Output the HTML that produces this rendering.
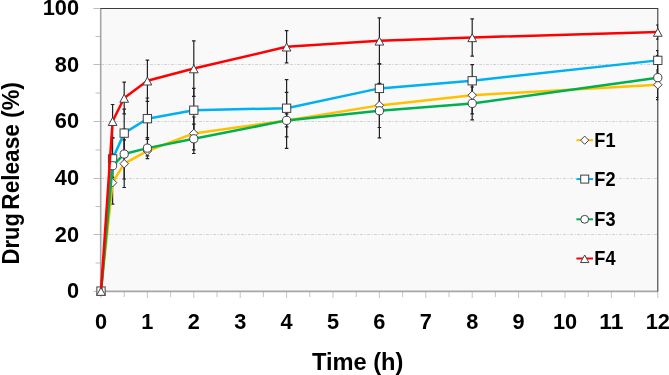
<!DOCTYPE html>
<html lang="en"><head><meta charset="utf-8"><title>Drug Release</title>
<style>html,body{margin:0;padding:0;background:#fff;overflow:hidden}svg{display:block}</style>
</head><body>
<svg width="669" height="375" viewBox="0 0 669 375" font-family="'Liberation Sans', sans-serif" font-weight="bold" fill="#000">
<rect width="669" height="375" fill="#fff"/>
<rect x="101.0" y="8.0" width="556.8" height="283.1" fill="#f9f9f9"/>
<line x1="101.0" x2="657.8" y1="234.5" y2="234.5" stroke="#cdcdcd" stroke-width="0.9" stroke-dasharray="3 1.4 1.2 1.4"/>
<line x1="101.0" x2="657.8" y1="178.5" y2="178.5" stroke="#cdcdcd" stroke-width="0.9" stroke-dasharray="3 1.4 1.2 1.4"/>
<line x1="101.0" x2="657.8" y1="121.5" y2="121.5" stroke="#cdcdcd" stroke-width="0.9" stroke-dasharray="3 1.4 1.2 1.4"/>
<line x1="101.0" x2="657.8" y1="64.5" y2="64.5" stroke="#cdcdcd" stroke-width="0.9" stroke-dasharray="3 1.4 1.2 1.4"/>
<line x1="93.5" x2="101.0" y1="291.4" y2="291.4" stroke="#bdbdbd" stroke-width="1"/>
<line x1="95.5" x2="101.0" y1="263" y2="263" stroke="#bdbdbd" stroke-width="1"/>
<line x1="93.5" x2="101.0" y1="234.5" y2="234.5" stroke="#bdbdbd" stroke-width="1"/>
<line x1="95.5" x2="101.0" y1="206.5" y2="206.5" stroke="#bdbdbd" stroke-width="1"/>
<line x1="93.5" x2="101.0" y1="178.5" y2="178.5" stroke="#bdbdbd" stroke-width="1"/>
<line x1="95.5" x2="101.0" y1="150" y2="150" stroke="#bdbdbd" stroke-width="1"/>
<line x1="93.5" x2="101.0" y1="121.5" y2="121.5" stroke="#bdbdbd" stroke-width="1"/>
<line x1="95.5" x2="101.0" y1="93" y2="93" stroke="#bdbdbd" stroke-width="1"/>
<line x1="93.5" x2="101.0" y1="64.5" y2="64.5" stroke="#bdbdbd" stroke-width="1"/>
<line x1="95.5" x2="101.0" y1="36.5" y2="36.5" stroke="#bdbdbd" stroke-width="1"/>
<line x1="93.5" x2="101.0" y1="8.5" y2="8.5" stroke="#bdbdbd" stroke-width="1"/>
<line x1="101.0" x2="101.0" y1="291.1" y2="298.1" stroke="#c4c4c4" stroke-width="1"/>
<line x1="124.2" x2="124.2" y1="291.1" y2="297.1" stroke="#c4c4c4" stroke-width="1"/>
<line x1="147.4" x2="147.4" y1="291.1" y2="298.1" stroke="#c4c4c4" stroke-width="1"/>
<line x1="170.6" x2="170.6" y1="291.1" y2="297.1" stroke="#c4c4c4" stroke-width="1"/>
<line x1="193.8" x2="193.8" y1="291.1" y2="298.1" stroke="#c4c4c4" stroke-width="1"/>
<line x1="217.0" x2="217.0" y1="291.1" y2="297.1" stroke="#c4c4c4" stroke-width="1"/>
<line x1="240.2" x2="240.2" y1="291.1" y2="298.1" stroke="#c4c4c4" stroke-width="1"/>
<line x1="263.4" x2="263.4" y1="291.1" y2="297.1" stroke="#c4c4c4" stroke-width="1"/>
<line x1="286.6" x2="286.6" y1="291.1" y2="298.1" stroke="#c4c4c4" stroke-width="1"/>
<line x1="309.8" x2="309.8" y1="291.1" y2="297.1" stroke="#c4c4c4" stroke-width="1"/>
<line x1="333.0" x2="333.0" y1="291.1" y2="298.1" stroke="#c4c4c4" stroke-width="1"/>
<line x1="356.2" x2="356.2" y1="291.1" y2="297.1" stroke="#c4c4c4" stroke-width="1"/>
<line x1="379.4" x2="379.4" y1="291.1" y2="298.1" stroke="#c4c4c4" stroke-width="1"/>
<line x1="402.6" x2="402.6" y1="291.1" y2="297.1" stroke="#c4c4c4" stroke-width="1"/>
<line x1="425.8" x2="425.8" y1="291.1" y2="298.1" stroke="#c4c4c4" stroke-width="1"/>
<line x1="449.0" x2="449.0" y1="291.1" y2="297.1" stroke="#c4c4c4" stroke-width="1"/>
<line x1="472.2" x2="472.2" y1="291.1" y2="298.1" stroke="#c4c4c4" stroke-width="1"/>
<line x1="495.4" x2="495.4" y1="291.1" y2="297.1" stroke="#c4c4c4" stroke-width="1"/>
<line x1="518.6" x2="518.6" y1="291.1" y2="298.1" stroke="#c4c4c4" stroke-width="1"/>
<line x1="541.8" x2="541.8" y1="291.1" y2="297.1" stroke="#c4c4c4" stroke-width="1"/>
<line x1="565.0" x2="565.0" y1="291.1" y2="298.1" stroke="#c4c4c4" stroke-width="1"/>
<line x1="588.2" x2="588.2" y1="291.1" y2="297.1" stroke="#c4c4c4" stroke-width="1"/>
<line x1="611.4" x2="611.4" y1="291.1" y2="298.1" stroke="#c4c4c4" stroke-width="1"/>
<line x1="634.6" x2="634.6" y1="291.1" y2="297.1" stroke="#c4c4c4" stroke-width="1"/>
<line x1="657.8" x2="657.8" y1="291.1" y2="298.1" stroke="#c4c4c4" stroke-width="1"/>
<line x1="100.7" x2="100.7" y1="8.0" y2="291.8" stroke="#a6a6a6" stroke-width="1.6"/>
<line x1="100.0" x2="657.8" y1="291.40000000000003" y2="291.40000000000003" stroke="#a6a6a6" stroke-width="1.6"/>
<path d="M100.5 8.5H657.8V291.6" fill="none" stroke="#3c3c3c" stroke-width="1.1"/>
<clipPath id="pc"><rect x="101.0" y="8" width="557.3" height="283.1"/></clipPath>
<path d="M112.6 161.2V204.2M110.8 161.2h3.6M110.8 204.2h3.6M124.2 139.9V187.5M122.4 139.9h3.6M122.4 187.5h3.6M147.4 146.2V155.8M145.6 146.2h3.6M145.6 155.8h3.6M193.8 117.0V149.8M192.0 117.0h3.6M192.0 149.8h3.6M286.6 92.4V148.4M284.8 92.4h3.6M284.8 148.4h3.6M379.4 83.3V127.5M377.6 83.3h3.6M377.6 127.5h3.6M472.2 76.5V113.9M470.4 76.5h3.6M470.4 113.9h3.6M657.8 72.0V97.5M656.0 72.0h3.6M656.0 97.5h3.6" fill="none" stroke="#222" stroke-width="1.2" clip-path="url(#pc)"/>
<path d="M112.6 137.9V179.8M110.8 137.9h3.6M110.8 179.8h3.6M124.2 109.1V157.2M122.4 109.1h3.6M122.4 157.2h3.6M147.4 98.0V139.4M145.6 98.0h3.6M145.6 139.4h3.6M193.8 88.4V132.0M192.0 88.4h3.6M192.0 132.0h3.6M286.6 79.6V136.8M284.8 79.6h3.6M284.8 136.8h3.6M379.4 63.8V113.0M377.6 63.8h3.6M377.6 113.0h3.6M472.2 64.6V96.9M470.4 64.6h3.6M470.4 96.9h3.6M657.8 50.7V70.0M656.0 50.7h3.6M656.0 70.0h3.6" fill="none" stroke="#222" stroke-width="1.2" clip-path="url(#pc)"/>
<path d="M112.6 154.1V177.3M110.8 154.1h3.6M110.8 177.3h3.6M124.2 129.2V179.0M122.4 129.2h3.6M122.4 179.0h3.6M147.4 137.7V158.6M145.6 137.7h3.6M145.6 158.6h3.6M193.8 124.1V153.5M192.0 124.1h3.6M192.0 153.5h3.6M286.6 113.9V126.9M284.8 113.9h3.6M284.8 126.9h3.6M379.4 83.6V137.9M377.6 83.6h3.6M377.6 137.9h3.6M472.2 87.0V119.8M470.4 87.0h3.6M470.4 119.8h3.6M657.8 55.6V99.7M656.0 55.6h3.6M656.0 99.7h3.6" fill="none" stroke="#222" stroke-width="1.2" clip-path="url(#pc)"/>
<path d="M112.6 104.5V137.9M110.8 104.5h3.6M110.8 137.9h3.6M124.2 82.2V113.9M122.4 82.2h3.6M122.4 113.9h3.6M147.4 60.1V101.4M145.6 60.1h3.6M145.6 101.4h3.6M193.8 40.8V96.3M192.0 40.8h3.6M192.0 96.3h3.6M286.6 30.6V62.9M284.8 30.6h3.6M284.8 62.9h3.6M379.4 17.9V63.8M377.6 17.9h3.6M377.6 63.8h3.6M472.2 18.8V56.1M470.4 18.8h3.6M470.4 56.1h3.6M657.8 25.0V39.1M656.0 25.0h3.6M656.0 39.1h3.6" fill="none" stroke="#222" stroke-width="1.2" clip-path="url(#pc)"/>
<path d="M101.00 291.10L112.60 182.67L124.20 163.71L147.40 150.97L193.80 133.41L286.60 120.39L379.40 105.39L472.20 95.19L657.80 84.72" fill="none" stroke="#FFC000" stroke-width="2.5" stroke-linejoin="round" stroke-linecap="round"/>
<path d="M108.35 182.67L112.60 178.42L116.85 182.67L112.60 186.92Z" fill="#fff" stroke="#404040" stroke-width="1"/>
<path d="M119.95 163.71L124.20 159.46L128.45 163.71L124.20 167.96Z" fill="#fff" stroke="#404040" stroke-width="1"/>
<path d="M143.15 150.97L147.40 146.72L151.65 150.97L147.40 155.22Z" fill="#fff" stroke="#404040" stroke-width="1"/>
<path d="M189.55 133.41L193.80 129.16L198.05 133.41L193.80 137.66Z" fill="#fff" stroke="#404040" stroke-width="1"/>
<path d="M282.35 120.39L286.60 116.14L290.85 120.39L286.60 124.64Z" fill="#fff" stroke="#404040" stroke-width="1"/>
<path d="M375.15 105.39L379.40 101.14L383.65 105.39L379.40 109.64Z" fill="#fff" stroke="#404040" stroke-width="1"/>
<path d="M467.95 95.19L472.20 90.94L476.45 95.19L472.20 99.44Z" fill="#fff" stroke="#404040" stroke-width="1"/>
<path d="M653.55 84.72L657.80 80.47L662.05 84.72L657.80 88.97Z" fill="#fff" stroke="#404040" stroke-width="1"/>
<path d="M101.00 291.10L112.60 158.89L124.20 133.13L147.40 118.69L193.80 110.20L286.60 108.22L379.40 88.40L472.20 80.76L657.80 60.37" fill="none" stroke="#00B0F0" stroke-width="2.5" stroke-linejoin="round" stroke-linecap="round"/>
<rect x="96.85" y="286.95" width="8.30" height="8.30" fill="#fff" stroke="#404040" stroke-width="1"/>
<rect x="108.45" y="154.74" width="8.30" height="8.30" fill="#fff" stroke="#404040" stroke-width="1"/>
<rect x="120.05" y="128.98" width="8.30" height="8.30" fill="#fff" stroke="#404040" stroke-width="1"/>
<rect x="143.25" y="114.54" width="8.30" height="8.30" fill="#fff" stroke="#404040" stroke-width="1"/>
<rect x="189.65" y="106.05" width="8.30" height="8.30" fill="#fff" stroke="#404040" stroke-width="1"/>
<rect x="282.45" y="104.07" width="8.30" height="8.30" fill="#fff" stroke="#404040" stroke-width="1"/>
<rect x="375.25" y="84.25" width="8.30" height="8.30" fill="#fff" stroke="#404040" stroke-width="1"/>
<rect x="468.05" y="76.61" width="8.30" height="8.30" fill="#fff" stroke="#404040" stroke-width="1"/>
<rect x="653.65" y="56.22" width="8.30" height="8.30" fill="#fff" stroke="#404040" stroke-width="1"/>
<path d="M101.00 291.10L112.60 165.69L124.20 154.08L147.40 148.13L193.80 138.79L286.60 120.39L379.40 110.77L472.20 103.40L657.80 77.64" fill="none" stroke="#00B050" stroke-width="2.5" stroke-linejoin="round" stroke-linecap="round"/>
<circle cx="112.60" cy="165.69" r="4.10" fill="#fff" stroke="#404040" stroke-width="1"/>
<circle cx="124.20" cy="154.08" r="4.10" fill="#fff" stroke="#404040" stroke-width="1"/>
<circle cx="147.40" cy="148.13" r="4.10" fill="#fff" stroke="#404040" stroke-width="1"/>
<circle cx="193.80" cy="138.79" r="4.10" fill="#fff" stroke="#404040" stroke-width="1"/>
<circle cx="286.60" cy="120.39" r="4.10" fill="#fff" stroke="#404040" stroke-width="1"/>
<circle cx="379.40" cy="110.77" r="4.10" fill="#fff" stroke="#404040" stroke-width="1"/>
<circle cx="472.20" cy="103.40" r="4.10" fill="#fff" stroke="#404040" stroke-width="1"/>
<circle cx="657.80" cy="77.64" r="4.10" fill="#fff" stroke="#404040" stroke-width="1"/>
<path d="M101.00 291.10L112.60 121.24L124.20 98.03L147.40 80.76L193.80 68.58L286.60 46.78L379.40 40.84L472.20 37.44L657.80 32.06" fill="none" stroke="#FF0000" stroke-width="2.5" stroke-linejoin="round" stroke-linecap="round"/>
<path d="M101.00 287.42L105.35 295.32L96.65 295.32Z" fill="#fff" stroke="#404040" stroke-width="1"/>
<path d="M112.60 117.56L116.95 125.46L108.25 125.46Z" fill="#fff" stroke="#404040" stroke-width="1"/>
<path d="M124.20 94.35L128.55 102.25L119.85 102.25Z" fill="#fff" stroke="#404040" stroke-width="1"/>
<path d="M147.40 77.08L151.75 84.98L143.05 84.98Z" fill="#fff" stroke="#404040" stroke-width="1"/>
<path d="M193.80 64.90L198.15 72.80L189.45 72.80Z" fill="#fff" stroke="#404040" stroke-width="1"/>
<path d="M286.60 43.10L290.95 51.00L282.25 51.00Z" fill="#fff" stroke="#404040" stroke-width="1"/>
<path d="M379.40 37.16L383.75 45.06L375.05 45.06Z" fill="#fff" stroke="#404040" stroke-width="1"/>
<path d="M472.20 33.76L476.55 41.66L467.85 41.66Z" fill="#fff" stroke="#404040" stroke-width="1"/>
<path d="M657.80 28.38L662.15 36.28L653.45 36.28Z" fill="#fff" stroke="#404040" stroke-width="1"/>
<line x1="576.4" x2="593" y1="140.2" y2="140.2" stroke="#FFC000" stroke-width="2"/>
<path d="M580.62 140.20L584.70 136.12L588.78 140.20L584.70 144.28Z" fill="#fff" stroke="#404040" stroke-width="1"/>
<text x="594.3" y="146.7" font-size="21" textLength="21.2" lengthAdjust="spacingAndGlyphs">F1</text>
<line x1="576.4" x2="593" y1="179.1" y2="179.1" stroke="#00B0F0" stroke-width="2"/>
<rect x="580.72" y="175.12" width="7.97" height="7.97" fill="#fff" stroke="#404040" stroke-width="1"/>
<text x="594.3" y="185.6" font-size="21" textLength="21.2" lengthAdjust="spacingAndGlyphs">F2</text>
<line x1="576.4" x2="593" y1="219.3" y2="219.3" stroke="#00B050" stroke-width="2"/>
<circle cx="584.70" cy="219.30" r="3.94" fill="#fff" stroke="#404040" stroke-width="1"/>
<text x="594.3" y="225.8" font-size="21" textLength="21.2" lengthAdjust="spacingAndGlyphs">F3</text>
<line x1="576.4" x2="593" y1="258.5" y2="258.5" stroke="#FF0000" stroke-width="2"/>
<path d="M584.70 254.98L588.88 262.56L580.52 262.56Z" fill="#fff" stroke="#404040" stroke-width="1"/>
<text x="594.3" y="265.0" font-size="21" textLength="21.2" lengthAdjust="spacingAndGlyphs">F4</text>
<text x="79" y="298.1" font-size="22.6" text-anchor="end" textLength="12.1" lengthAdjust="spacingAndGlyphs">0</text>
<text x="79" y="241.5" font-size="22.6" text-anchor="end" textLength="24.2" lengthAdjust="spacingAndGlyphs">20</text>
<text x="79" y="184.9" font-size="22.6" text-anchor="end" textLength="24.2" lengthAdjust="spacingAndGlyphs">40</text>
<text x="79" y="128.2" font-size="22.6" text-anchor="end" textLength="24.2" lengthAdjust="spacingAndGlyphs">60</text>
<text x="79" y="71.6" font-size="22.6" text-anchor="end" textLength="24.2" lengthAdjust="spacingAndGlyphs">80</text>
<text x="79" y="15.0" font-size="22.6" text-anchor="end" textLength="36.3" lengthAdjust="spacingAndGlyphs">100</text>
<text x="101.0" y="328.8" font-size="22.6" text-anchor="middle" textLength="12.1" lengthAdjust="spacingAndGlyphs">0</text>
<text x="147.4" y="328.8" font-size="22.6" text-anchor="middle" textLength="12.1" lengthAdjust="spacingAndGlyphs">1</text>
<text x="193.8" y="328.8" font-size="22.6" text-anchor="middle" textLength="12.1" lengthAdjust="spacingAndGlyphs">2</text>
<text x="240.2" y="328.8" font-size="22.6" text-anchor="middle" textLength="12.1" lengthAdjust="spacingAndGlyphs">3</text>
<text x="286.6" y="328.8" font-size="22.6" text-anchor="middle" textLength="12.1" lengthAdjust="spacingAndGlyphs">4</text>
<text x="333.0" y="328.8" font-size="22.6" text-anchor="middle" textLength="12.1" lengthAdjust="spacingAndGlyphs">5</text>
<text x="379.4" y="328.8" font-size="22.6" text-anchor="middle" textLength="12.1" lengthAdjust="spacingAndGlyphs">6</text>
<text x="425.8" y="328.8" font-size="22.6" text-anchor="middle" textLength="12.1" lengthAdjust="spacingAndGlyphs">7</text>
<text x="472.2" y="328.8" font-size="22.6" text-anchor="middle" textLength="12.1" lengthAdjust="spacingAndGlyphs">8</text>
<text x="518.6" y="328.8" font-size="22.6" text-anchor="middle" textLength="12.1" lengthAdjust="spacingAndGlyphs">9</text>
<text x="565.0" y="328.8" font-size="22.6" text-anchor="middle" textLength="24.2" lengthAdjust="spacingAndGlyphs">10</text>
<text x="611.4" y="328.8" font-size="22.6" text-anchor="middle" textLength="24.2" lengthAdjust="spacingAndGlyphs">11</text>
<text x="657.8" y="328.8" font-size="22.6" text-anchor="middle" textLength="24.2" lengthAdjust="spacingAndGlyphs">12</text>
<text x="357.7" y="369.6" font-size="24" text-anchor="middle" textLength="91.5" lengthAdjust="spacingAndGlyphs">Time (h)</text>
<text transform="translate(18.7 264.40) rotate(-90)" font-size="24" textLength="51.20" lengthAdjust="spacingAndGlyphs">Drug</text>
<text transform="translate(18.7 209.70) rotate(-90)" font-size="24" textLength="85.50" lengthAdjust="spacingAndGlyphs">Release</text>
<text transform="translate(18.7 118.00) rotate(-90)" font-size="24" textLength="36.00" lengthAdjust="spacingAndGlyphs">(%)</text>
</svg>
</body></html>
